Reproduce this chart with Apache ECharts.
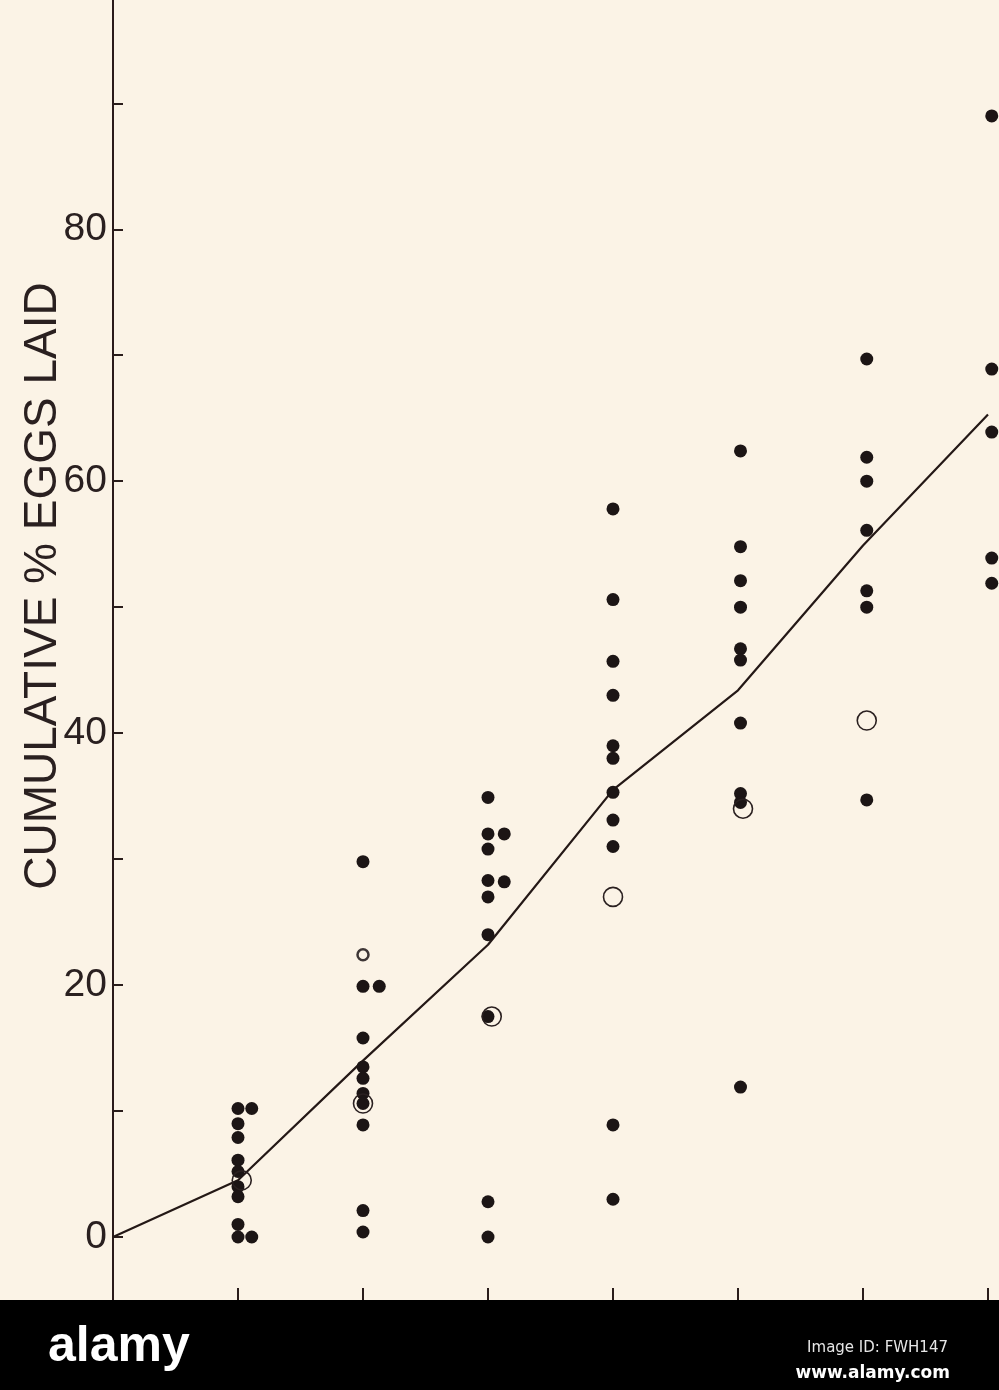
<!DOCTYPE html>
<html>
<head>
<meta charset="utf-8">
<script src="https://cdn.jsdelivr.net/npm/echarts@6/dist/echarts.min.js"></script>
<style>
  html, body { margin: 0; padding: 0; background: #fbf3e6; }
  #chart { width: 999px; height: 1390px; }
</style>
</head>
<body>
<div id="chart"></div>
<script>
// ---- data ----
const yAxisTitle = 'CUMULATIVE % EGGS LAID';
const xTickValues = [1, 2, 3, 4, 5, 6, 7];
const yTickValues = [0, 10, 20, 30, 40, 50, 60, 70, 80, 90];
const yLabelValues = [0, 20, 40, 60, 80];

// mean (cumulative) line
const meanLine = [[0, 0], [1, 4.5], [2, 14.0], [3, 23.2], [4, 35.5], [5, 43.4], [6, 54.9], [7, 65.3]];

// individual filled dots (small x offsets where dots sit side by side)
const dotsCol1 = [[1, 10.2], [1.11, 10.2], [1, 9.0], [1, 7.9], [1, 6.1], [1, 5.2], [1, 4.0], [1, 3.2], [1, 1.0], [1, 0], [1.11, 0]];
const dotsCol2 = [[2, 29.8], [2, 19.9], [2.13, 19.9], [2, 15.8], [2, 13.5], [2, 12.6], [2, 11.4], [2, 10.6], [2, 8.9], [2, 2.1], [2, 0.4]];
const dotsCol3 = [[3, 34.9], [3, 32.0], [3.13, 32.0], [3, 30.8], [3, 28.3], [3.13, 28.2], [3, 27.0], [3, 24.0], [3, 17.5], [3, 2.8], [3, 0]];
const dotsCol4 = [[4, 57.8], [4, 50.6], [4, 45.7], [4, 43.0], [4, 39.0], [4, 38.0], [4, 35.3], [4, 33.1], [4, 31.0], [4, 8.9], [4, 3.0]];
const dotsCol5 = [[5.02, 62.4], [5.02, 54.8], [5.02, 52.1], [5.02, 50.0], [5.02, 46.7], [5.02, 45.8], [5.02, 40.8], [5.02, 35.2], [5.02, 34.5], [5.02, 11.9]];
const dotsCol6 = [[6.03, 69.7], [6.03, 61.9], [6.03, 60.0], [6.03, 56.1], [6.03, 51.3], [6.03, 50.0], [6.03, 34.7]];
const dotsCol7 = [[7.03, 89.0], [7.03, 68.9], [7.03, 63.9], [7.03, 53.9], [7.03, 51.9]];

// open circles
const openCircles = [[1.03, 4.5], [2, 10.6], [3.03, 17.5], [4, 27.0], [5.04, 34.0], [6.03, 41.0]];
const smallOpenCircles = [[2, 22.4]];

// ---- chart ----
const ink = '#1c1515';
const filledDots = [].concat(dotsCol1, dotsCol2, dotsCol3, dotsCol4, dotsCol5, dotsCol6, dotsCol7);

const chart = echarts.init(document.getElementById('chart'), null, { renderer: 'canvas' });
chart.setOption({
  backgroundColor: '#fbf3e6',
  animation: false,
  grid: { left: 113, right: 11, top: 0, bottom: 90, containLabel: false },
  xAxis: {
    type: 'value', min: 0, max: 7,
    axisLine: { show: false, onZero: false },
    axisTick: { show: true, inside: true, length: 12, customValues: xTickValues,
                lineStyle: { color: '#2a1d1b', width: 2 } },
    axisLabel: { show: false },
    splitLine: { show: false }
  },
  yAxis: {
    type: 'value', min: -5, max: 98.2,
    axisLine: { show: true, onZero: false, lineStyle: { color: '#2a1a1a', width: 2 } },
    axisTick: { show: true, inside: true, length: 10, customValues: yTickValues,
                lineStyle: { color: '#2a1d1b', width: 2 } },
    axisLabel: { show: true, customValues: yLabelValues, margin: 6,
                 fontFamily: 'Liberation Sans', fontSize: 39, color: '#2a2020' },
    splitLine: { show: false }
  },
  series: [
    { type: 'line', data: meanLine, symbol: 'none', z: 2,
      lineStyle: { color: '#241816', width: 2.2 } },
    { type: 'scatter', data: filledDots, symbol: 'circle', symbolSize: 13, z: 3, clip: false,
      itemStyle: { color: ink, opacity: 1 } },
    { type: 'scatter', data: openCircles, symbol: 'circle', symbolSize: 19, z: 4, clip: false,
      itemStyle: { color: 'rgba(0,0,0,0)', borderColor: '#2a2020', borderWidth: 1.6, opacity: 1 } },
    { type: 'scatter', data: smallOpenCircles, symbol: 'circle', symbolSize: 11, z: 4, clip: false,
      itemStyle: { color: 'rgba(0,0,0,0)', borderColor: '#3e3636', borderWidth: 2.5, opacity: 1 } }
  ],
  graphic: [
    { type: 'text', x: 43, y: 586, rotation: Math.PI / 2, z: 50,
      style: { text: yAxisTitle, fontFamily: 'Liberation Sans', fontSize: 46,
               fill: '#2a2020', textAlign: 'center', textVerticalAlign: 'middle' } },
    { type: 'rect', z: 100, shape: { x: 0, y: 1300, width: 999, height: 90 },
      style: { fill: '#000' } },
    { type: 'text', z: 101, x: 48, y: 1322,
      style: { text: 'alamy', fontFamily: 'Liberation Sans Narrow, Liberation Sans', fontWeight: 'bold',
               fontSize: 50, fill: '#fff', textVerticalAlign: 'top' } },
    { type: 'text', z: 101, x: 948, y: 1348,
      style: { text: 'Image ID: FWH147', fontFamily: 'DejaVu Sans', fontSize: 15,
               fill: '#e6e6e6', textAlign: 'right', textVerticalAlign: 'middle' } },
    { type: 'text', z: 101, x: 950, y: 1374,
      style: { text: 'www.alamy.com', fontFamily: 'DejaVu Sans', fontWeight: 'bold', fontSize: 17,
               fill: '#ffffff', textAlign: 'right', textVerticalAlign: 'middle' } }
  ]
});
</script>
</body>
</html>
